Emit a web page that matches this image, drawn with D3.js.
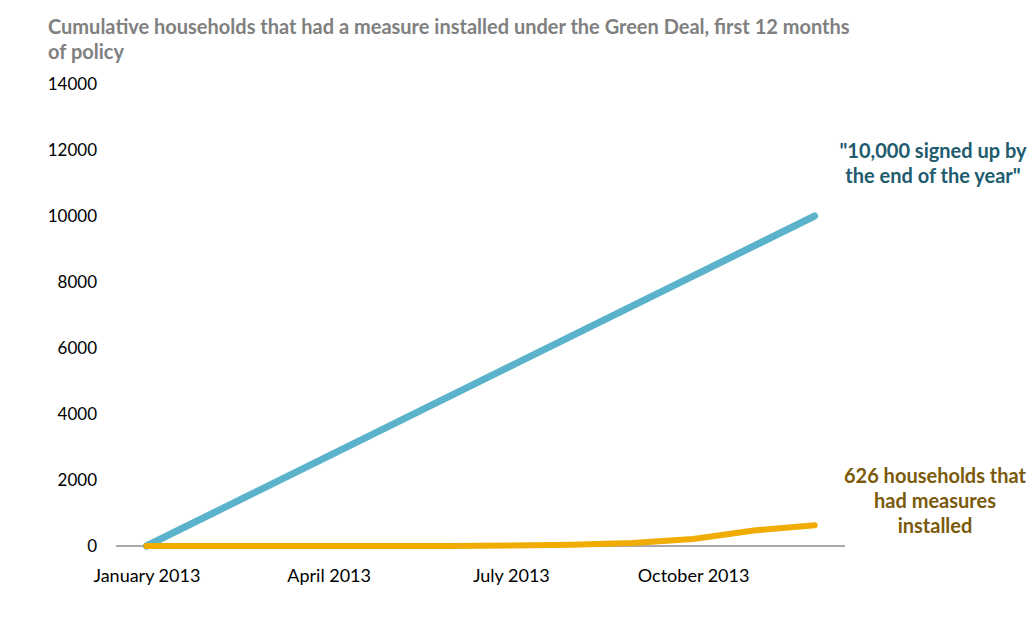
<!DOCTYPE html>
<html>
<head>
<meta charset="utf-8">
<script src="https://cdn.jsdelivr.net/npm/d3@7"></script>
<style>
  body { margin: 0; background: #fff; }
  svg { font-family: Lato, "Open Sans", sans-serif; }
</style>
</head>
<body>
<svg id="chart" width="1033" height="618"></svg>
<script>
// months of the first year of the policy
const months = ["Jan 2013", "Feb 2013", "Mar 2013", "Apr 2013", "May 2013", "Jun 2013",
                "Jul 2013", "Aug 2013", "Sep 2013", "Oct 2013", "Nov 2013", "Dec 2013"]
// ambition: straight line from zero to the 10,000 target
const targetMonths = ["Jan 2013", "Dec 2013"]
const targetValues = [0, 10000]
const installedValues = [0, 0, 0, 0, 0, 2, 12, 40, 90, 215, 470, 626]
const yTicks = [0, 2000, 4000, 6000, 8000, 10000, 12000, 14000]
const xTickMonths = ["Jan 2013", "Apr 2013", "Jul 2013", "Oct 2013"]
const xTickLabels = ["January 2013", "April 2013", "July 2013", "October 2013"]

const svg = d3.select("#chart")

const x = d3.scalePoint()
    .domain(months)
    .range([116, 845])
    .padding(0.5)
const y = d3.scaleLinear()
    .domain([0, 14000])
    .range([546, 84])

// title
const title = svg.append("text")
    .attr("x", 48)
    .attr("y", 34)
    .style("font-size", "20px")
    .style("font-weight", "bold")
    .style("fill", "#808080")
title.append("tspan").attr("x", 48).text("Cumulative households that had a measure installed under the Green Deal, first 12 months")
title.append("tspan").attr("x", 48).attr("dy", 25).text("of policy")

// y axis labels only
const axisY = svg.append("g")
    .attr("transform", "translate(97,0)")
    .call(d3.axisLeft(y).tickValues(yTicks).tickSize(0).tickPadding(0).tickFormat(d3.format("d")))
axisY.select(".domain").remove()
axisY.selectAll("text")
    .style("font-family", "Lato, sans-serif")
    .style("font-size", "17px")
    .style("fill", "#000")

// x axis
const axisX = svg.append("g")
    .attr("transform", "translate(0,546)")
    .call(d3.axisBottom(x).tickValues(xTickMonths).tickSize(0).tickPadding(23)
        .tickFormat((d, i) => xTickLabels[i]))
axisX.select(".domain")
    .attr("d", "M116,0H845")
    .style("stroke", "#8c8c8c")
    .style("stroke-width", 1.3)
axisX.selectAll("text")
    .style("font-family", "Lato, sans-serif")
    .style("font-size", "18px")
    .style("fill", "#000")

const line = d3.line()
    .x(d => x(d[0]))
    .y(d => y(d[1]))

svg.append("path")
    .datum(targetMonths.map((m, i) => [m, targetValues[i]]))
    .attr("d", line)
    .attr("fill", "none")
    .attr("stroke", "#5bb3cb")
    .attr("stroke-width", 7)
    .attr("stroke-linecap", "round")

svg.append("path")
    .datum(months.map((m, i) => [m, installedValues[i]]))
    .attr("d", line)
    .attr("fill", "none")
    .attr("stroke", "#f0ac00")
    .attr("stroke-width", 6)
    .attr("stroke-linecap", "round")
    .attr("stroke-linejoin", "round")

// annotations
const note1 = svg.append("text")
    .attr("text-anchor", "middle")
    .style("font-size", "20px")
    .style("font-weight", "bold")
    .style("fill", "#215b6e")
note1.append("tspan").attr("x", 933).attr("y", 158).text("\"10,000 signed up by")
note1.append("tspan").attr("x", 933).attr("y", 183).text("the end of the year\"")

const note2 = svg.append("text")
    .attr("text-anchor", "middle")
    .style("font-size", "20px")
    .style("font-weight", "bold")
    .style("fill", "#7a5a0a")
note2.append("tspan").attr("x", 935).attr("y", 483).text("626 households that")
note2.append("tspan").attr("x", 935).attr("y", 508).text("had measures")
note2.append("tspan").attr("x", 935).attr("y", 533).text("installed")
</script>
</body>
</html>
